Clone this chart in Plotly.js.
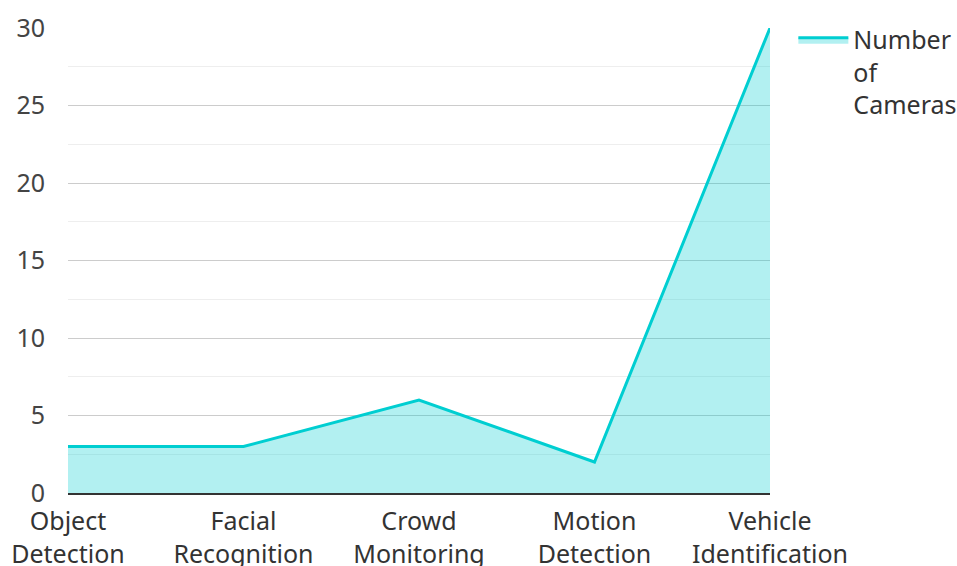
<!DOCTYPE html>
<html>
<head>
<meta charset="utf-8">
<script src="https://cdn.plot.ly/plotly-3.0.1.min.js"></script>
<style>html,body{margin:0;padding:0;background:#fff;}#chart{width:957px;height:566px;}</style>
</head>
<body>
<div id="chart"></div>
<script>
const categories = ["Object<br>Detection", "Facial<br>Recognition", "Crowd<br>Monitoring", "Motion<br>Detection", "Vehicle<br>Identification"];
const cameras = [3, 3, 6, 2, 30];
const seriesName = "Number<br>of<br>Cameras";
const yTicks = [0, 5, 10, 15, 20, 25, 30];

const trace = {
  type: "scatter",
  mode: "lines",
  x: categories,
  y: cameras,
  name: seriesName,
  fill: "tozeroy",
  fillcolor: "rgba(0,206,209,0.3)",
  line: {color: "#00CED1", width: 3}
};

const layout = {
  width: 957,
  height: 566,
  margin: {l: 68, r: 187, t: 28, b: 73, autoexpand: false},
  paper_bgcolor: "#fff",
  plot_bgcolor: "#fff",
  font: {family: "Noto Sans, Open Sans, sans-serif", size: 25, color: "#333"},
  showlegend: true,
  legend: {xref: "container", yref: "container", x: 0.829, y: 0.97, xanchor: "left", yanchor: "top", valign: "top", itemwidth: 50, font: {size: 25, color: "#333"}},
  xaxis: {
    type: "category",
    range: [0, 4],
    showgrid: false,
    zeroline: false,
    showline: true,
    linecolor: "#333",
    linewidth: 2,
    ticks: "",
    ticklabelstandoff: 5,
    tickfont: {size: 25, color: "#333"},
    fixedrange: true,
    automargin: false
  },
  yaxis: {
    range: [0, 30],
    tickvals: yTicks,
    ticktext: yTicks.map(String),
    showgrid: true,
    gridcolor: "#cccccc",
    gridwidth: 1,
    minor: {dtick: 2.5, showgrid: true, gridcolor: "#eeeeee", gridwidth: 1},
    zeroline: false,
    showline: false,
    ticks: "",
    ticklabelstandoff: 22,
    tickfont: {size: 25, color: "#444"},
    fixedrange: true,
    automargin: false
  }
};

Plotly.newPlot("chart", [trace], layout, {displayModeBar: false, staticPlot: true});
</script>
</body>
</html>
